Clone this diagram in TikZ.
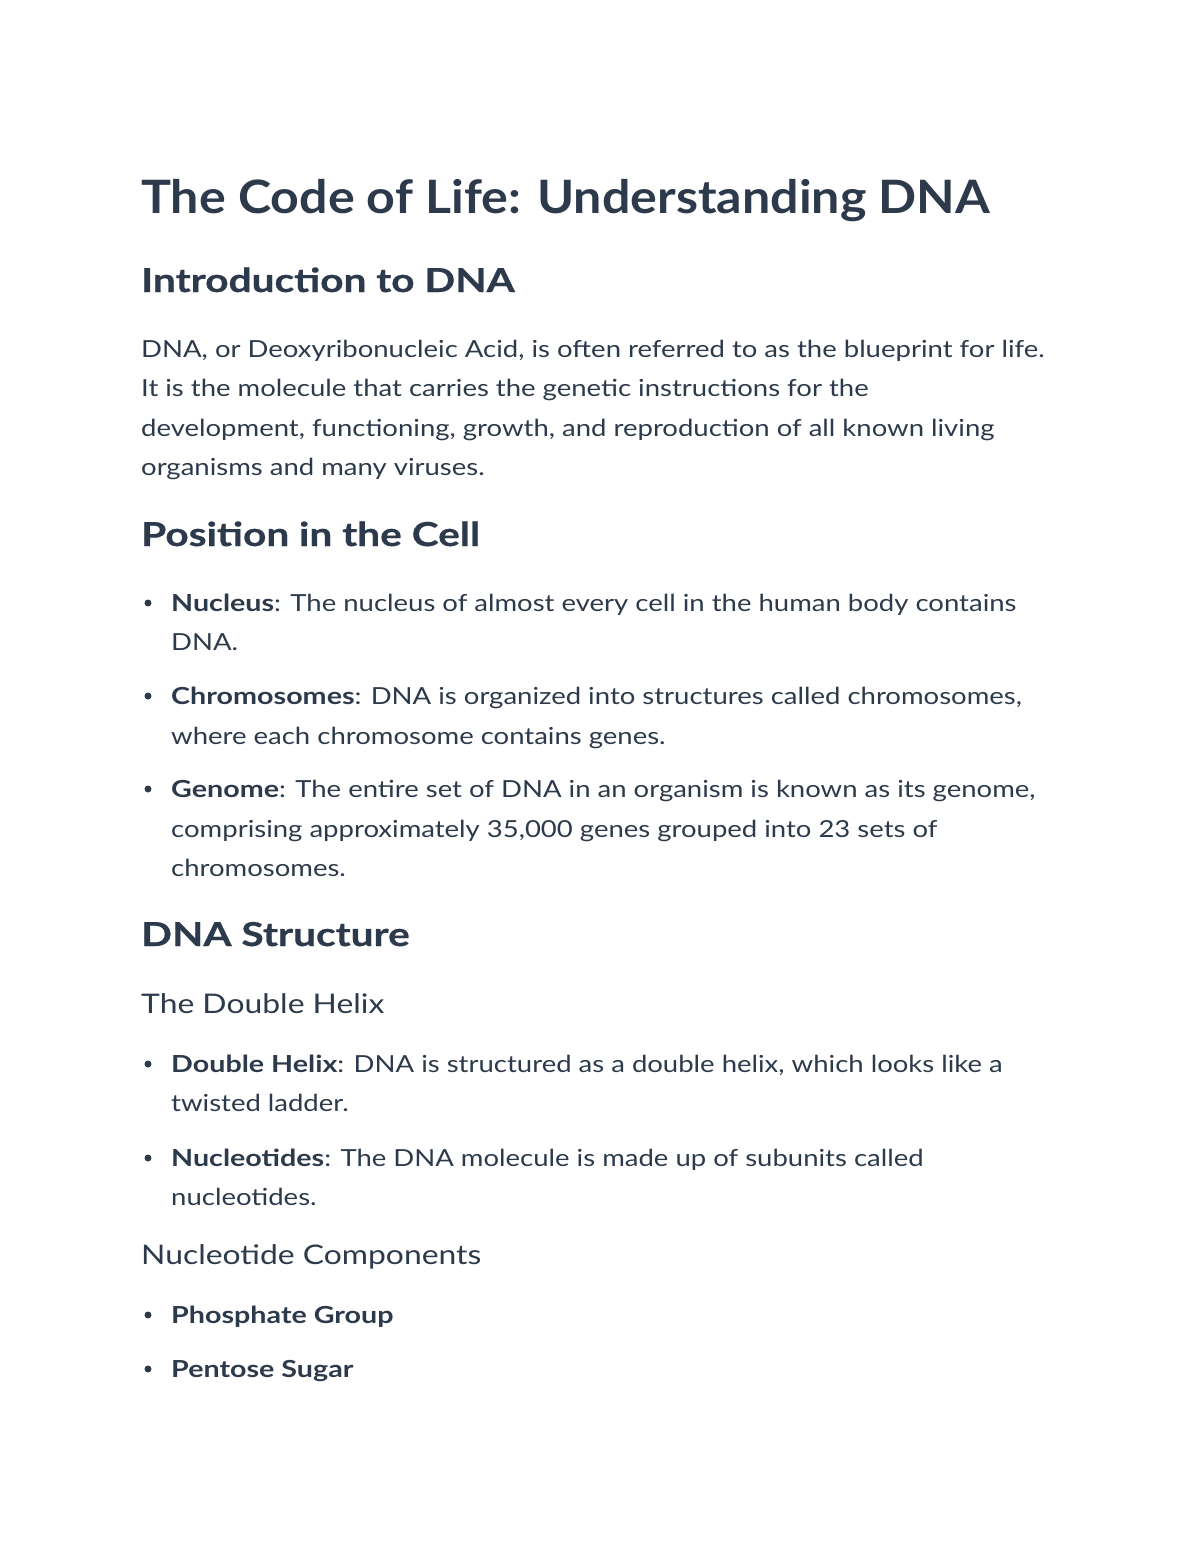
\documentclass[tikz,border=0pt]{standalone}
\usepackage{fontspec}
\setmainfont{Lato}[FakeStretch=1.17,BoldFeatures={FakeStretch=1.22}]
\newfontfamily\titlefont{Lato}[FakeStretch=1.09]
\newfontfamily\headfont{Lato}[FakeStretch=1.23,FakeBold=0.6]
\newfontfamily\subfont{Lato}[FakeStretch=1.18]
\definecolor{ink}{HTML}{2D3A4B}
\begin{document}
\begin{tikzpicture}[x=1pt,y=-1pt,
  every node/.style={anchor=base west,inner sep=0pt,text=ink},
  ttl/.style={font=\fontsize{46}{50}\titlefont\bfseries},
  hd/.style={font=\fontsize{33}{36}\headfont\bfseries},
  sub/.style={font=\fontsize{27}{30}\subfont},
  bd/.style={font=\fontsize{23.5}{28}\selectfont},
  dot/.style={circle,fill=ink,minimum size=7pt,inner sep=0pt,anchor=center}]
\useasboundingbox (0,0) rectangle (1200,1553);
\node[ttl] (t) at (141,213) {The Code of Life: Understanding DNA};
\node[hd] (h1) at (141,292) {Introduction to DNA};
\node[bd] (p1) at (141,357) {DNA, or Deoxyribonucleic Acid, is often referred to as the blueprint for life.};
\node[bd] (p2) at (141,396) {It is the molecule that carries the genetic instructions for the};
\node[bd] (p3) at (141,436) {development, functioning, growth, and reproduction of all known living};
\node[bd] (p4) at (141,475) {organisms and many viruses.};
\node[hd] (h2) at (141,546) {Position in the Cell};
\node[dot] (d1) at (148,603) {};
\node[bd] (b1a) at (171,611) {\textbf{Nucleus}: The nucleus of almost every cell in the human body contains};
\node[bd] (b1b) at (171,650) {DNA.};
\node[dot] (d2) at (148,696) {};
\node[bd] (b2a) at (171,704) {\textbf{Chromosomes}: DNA is organized into structures called chromosomes,};
\node[bd] (b2b) at (171,744) {where each chromosome contains genes.};
\node[dot] (d3) at (148,789) {};
\node[bd] (b3a) at (171,797) {\textbf{Genome}: The entire set of DNA in an organism is known as its genome,};
\node[bd] (b3b) at (171,837) {comprising approximately 35,000 genes grouped into 23 sets of};
\node[bd] (b3c) at (171,876) {chromosomes.};
\node[hd] (h3) at (141,946) {DNA Structure};
\node[sub] (s1) at (141,1013) {The Double Helix};
\node[dot] (d4) at (148,1064) {};
\node[bd] (b4a) at (171,1072) {\textbf{Double Helix}: DNA is structured as a double helix, which looks like a};
\node[bd] (b4b) at (171,1111) {twisted ladder.};
\node[dot] (d5) at (148,1158) {};
\node[bd] (b5a) at (171,1166) {\textbf{Nucleotides}: The DNA molecule is made up of subunits called};
\node[bd] (b5b) at (171,1205) {nucleotides.};
\node[sub] (s2) at (141,1264) {Nucleotide Components};
\node[dot] (d6) at (148,1315) {};
\node[bd] (b6) at (171,1323) {\textbf{Phosphate Group}};
\node[dot] (d7) at (148,1369) {};
\node[bd] (b7) at (171,1377) {\textbf{Pentose Sugar}};
\end{tikzpicture}
\end{document}
